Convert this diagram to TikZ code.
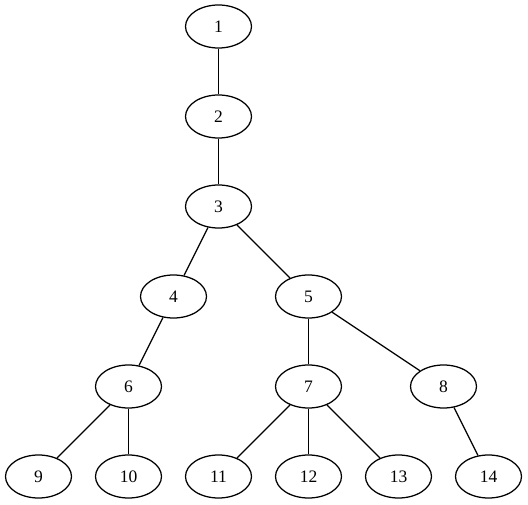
\documentclass[tikz,border=0pt]{standalone}
\usepackage{fontspec}
\setmainfont{Liberation Serif}
\usetikzlibrary{shapes.geometric}
\tikzset{
  vert/.style ={ellipse, draw, line width=1.25pt, inner sep=0pt, minimum width=66pt,
                minimum height=43pt, font=\fontsize{17.5}{20}\selectfont},
  tedge/.style={line width=1.25pt},
}

\begin{document}
\begin{tikzpicture}[x=1pt,y=-1pt]
  \useasboundingbox (0,0) rectangle (528,505);

  % chain
  \node[vert] (v1) at (218.5,26.5) {1};
  \node[vert] (v2) at (218.5,116.5) {2};
  \node[vert] (v3) at (218.5,206.5) {3};

  % second level
  \node[vert] (v4) at (173.5,296.5) {4};
  \node[vert] (v5) at (308.5,296.5) {5};

  % third level
  \node[vert] (v6) at (128.5,386.5) {6};
  \node[vert] (v7) at (308.5,386.5) {7};
  \node[vert] (v8) at (443.5,386.5) {8};

  % leaves
  \node[vert] (v9)  at (38.5,476.5)  {9};
  \node[vert] (v10) at (128.5,476.5) {10};
  \node[vert] (v11) at (218.5,476.5) {11};
  \node[vert] (v12) at (308.5,476.5) {12};
  \node[vert] (v13) at (398.5,476.5) {13};
  \node[vert] (v14) at (488.5,476.5) {14};

  \draw[tedge](v1)--(v2); \draw[tedge](v2)--(v3);
  \draw[tedge](v3)--(v4); \draw[tedge](v3)--(v5);
  \draw[tedge](v4)--(v6);
  \draw[tedge](v5)--(v7); \draw[tedge](v5)--(v8);
  \draw[tedge](v6)--(v9); \draw[tedge](v6)--(v10);
  \draw[tedge](v7)--(v11); \draw[tedge](v7)--(v12); \draw[tedge](v7)--(v13);
  \draw[tedge](v8)--(v14);
\end{tikzpicture}
\end{document}
